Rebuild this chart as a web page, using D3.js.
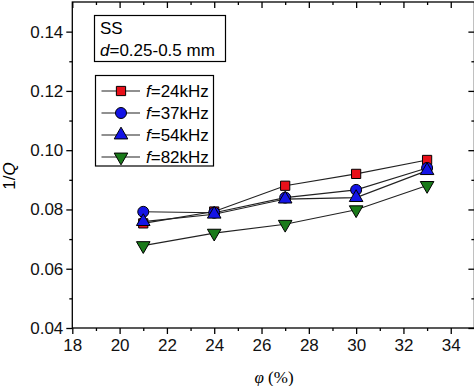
<!DOCTYPE html>
<html>
<head>
<meta charset="utf-8">
<script src="https://d3js.org/d3.v7.min.js"></script>
<style>
body { margin: 0; background: #fff; }
text { font-family: "Liberation Sans", Arial, sans-serif; }
</style>
</head>
<body>
<script>

var phi = [21, 24, 27, 30, 33];
var f24 = [0.0753, 0.0793, 0.0880, 0.0920, 0.0967];
var f37 = [0.0792, 0.0789, 0.0840, 0.0866, 0.0940];
var f54 = [0.0759, 0.0784, 0.0835, 0.0840, 0.0931];
var f82 = [0.0678, 0.0720, 0.0750, 0.0799, 0.0881];
var seriesNames = ["24kHz", "37kHz", "54kHz", "82kHz"];
var xTicks = [18, 20, 22, 24, 26, 28, 30, 32, 34];
var yTicks = [0.04, 0.06, 0.08, 0.10, 0.12, 0.14];

var width = 474, height = 386;
var padL = 72.3, padR = 474.4, padT = 2, padB = 328;

var svg = d3.select("body").append("svg")
  .attr("width", width).attr("height", height);

var x = d3.scaleLinear().domain([18, 35]).range([padL, padR]);
var y = d3.scaleLinear().domain([0.04, 0.15]).range([padB, padT]);

var series = [
  { name: seriesNames[0], vals: f24, fill: "#e8101a", sym: d3.symbolSquare, size: 85, rot: 0 },
  { name: seriesNames[1], vals: f37, fill: "#1414e6", sym: d3.symbolCircle, size: 95, rot: 0 },
  { name: seriesNames[2], vals: f54, fill: "#1414e6", sym: d3.symbolTriangle, size: 80, rot: 0 },
  { name: seriesNames[3], vals: f82, fill: "#1a7a1a", sym: d3.symbolTriangle, size: 80, rot: 180 }
];

// frame
svg.append("rect")
  .attr("x", padL).attr("y", padT)
  .attr("width", padR - padL).attr("height", padB - padT)
  .attr("fill", "none").attr("stroke", "#000").attr("stroke-width", 1.3);

// axes
var xMinor = d3.range(19, 35, 2);
var yMinor = [0.05, 0.07, 0.09, 0.11, 0.13];

svg.append("g").attr("transform", "translate(0," + padB + ")")
  .call(d3.axisBottom(x).tickValues(xTicks).tickSize(6).tickPadding(5).tickFormat(d3.format("d")));
svg.append("g").attr("transform", "translate(0," + padB + ")")
  .call(d3.axisBottom(x).tickValues(xMinor).tickSize(3).tickFormat(""));
svg.append("g").attr("transform", "translate(" + padL + ",0)")
  .call(d3.axisLeft(y).tickValues(yTicks).tickSize(6).tickPadding(3).tickFormat(d3.format(".2f")));
svg.append("g").attr("transform", "translate(" + padL + ",0)")
  .call(d3.axisLeft(y).tickValues(yMinor).tickSize(3).tickFormat(""));
// mirrored inward ticks
svg.append("g").attr("transform", "translate(0," + padT + ")")
  .call(d3.axisBottom(x).tickValues(xTicks).tickSize(6).tickFormat(""));
svg.append("g").attr("transform", "translate(0," + padT + ")")
  .call(d3.axisBottom(x).tickValues(xMinor).tickSize(3).tickFormat(""));
svg.append("g").attr("transform", "translate(" + padR + ",0)")
  .call(d3.axisLeft(y).tickValues(yTicks).tickSize(6).tickFormat(""));
svg.append("g").attr("transform", "translate(" + padR + ",0)")
  .call(d3.axisLeft(y).tickValues(yMinor).tickSize(3).tickFormat(""));

svg.selectAll(".domain").remove();
svg.selectAll(".tick line").attr("stroke", "#000").attr("stroke-width", 1.3);
svg.selectAll(".tick text").attr("font-size", 17).attr("fill", "#111")
  .style("font-family", "Liberation Sans, Arial, sans-serif");

// axis titles
var xt = svg.append("text").attr("x", 274).attr("y", 383)
  .attr("text-anchor", "middle").attr("font-size", 17)
  .style("font-family", "Liberation Serif, serif");
xt.append("tspan").attr("font-style", "italic").text("φ");
xt.append("tspan").text(" (%)");

var yt = svg.append("text")
  .attr("transform", "translate(15,176) rotate(-90)")
  .attr("text-anchor", "middle").attr("font-size", 17);
yt.append("tspan").text("1/");
yt.append("tspan").attr("font-style", "italic").text("Q");

// lines and markers
var line = d3.line().x(function(d, i) { return x(phi[i]); }).y(function(d) { return y(d); });

series.forEach(function(s) {
  svg.append("path").datum(s.vals)
    .attr("d", line).attr("fill", "none")
    .attr("stroke", "#222").attr("stroke-width", 1.1);
});
series.forEach(function(s) {
  svg.selectAll(null).data(s.vals).enter().append("path")
    .attr("d", d3.symbol().type(s.sym).size(s.size))
    .attr("transform", function(d, i) {
      return "translate(" + x(phi[i]) + "," + y(d) + ") rotate(" + s.rot + ")";
    })
    .attr("fill", s.fill).attr("stroke", "#000").attr("stroke-width", 1);
});

// info box
svg.append("rect").attr("x", 94.5).attr("y", 15.5).attr("width", 131).attr("height", 46)
  .attr("fill", "#fff").attr("stroke", "#000").attr("stroke-width", 1.2);
svg.append("text").attr("x", 100).attr("y", 34).attr("font-size", 17).text("SS");
var dt = svg.append("text").attr("x", 100).attr("y", 56).attr("font-size", 17);
dt.append("tspan").attr("font-style", "italic").text("d");
dt.append("tspan").text("=0.25-0.5 mm");

// legend
svg.append("rect").attr("x", 95.5).attr("y", 75.5).attr("width", 118).attr("height", 90.5)
  .attr("fill", "#fff").attr("stroke", "#000").attr("stroke-width", 1.2);
series.forEach(function(s, i) {
  var ly = 91 + i * 22;
  svg.append("line").attr("x1", 101.5).attr("x2", 140).attr("y1", ly).attr("y2", ly)
    .attr("stroke", "#222").attr("stroke-width", 1.1);
  svg.append("path").attr("d", d3.symbol().type(s.sym).size(s.size))
    .attr("transform", "translate(121," + ly + ") rotate(" + s.rot + ")")
    .attr("fill", s.fill).attr("stroke", "#000").attr("stroke-width", 1);
  var t = svg.append("text").attr("x", 146).attr("y", ly + 6).attr("font-size", 17);
  t.append("tspan").attr("font-style", "italic").text("f");
  t.append("tspan").text("=" + s.name);
});

</script>
</body>
</html>
